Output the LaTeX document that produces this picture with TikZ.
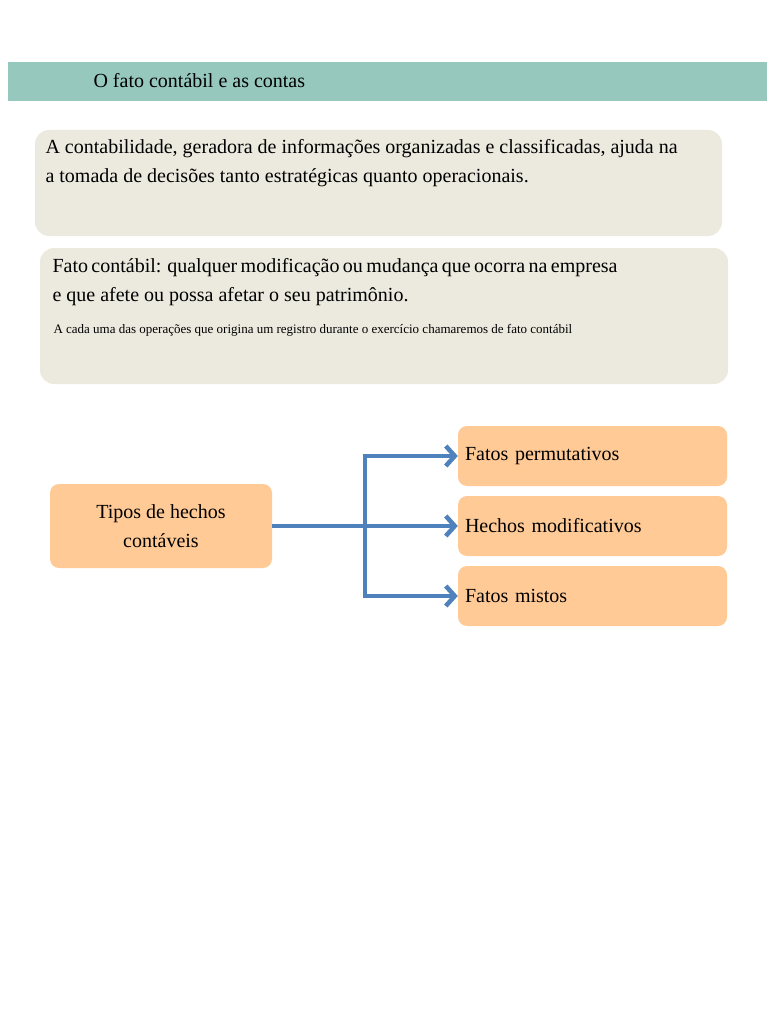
\documentclass[tikz,border=0pt]{standalone}
\usepackage{fontspec}
\setmainfont{Liberation Serif}
\usetikzlibrary{positioning,arrows.meta}
\definecolor{titleBar}{HTML}{96C8BE}
\definecolor{noteFill}{HTML}{ECEADF}
\definecolor{typeFill}{HTML}{FFCA96}
\definecolor{linkBlue}{HTML}{4F81BD}

\begin{document}
\begin{tikzpicture}[
  x=1pt, y=-1pt,
  noteBox/.style={
    fill=noteFill,
    rounded corners=14pt,
  },
  typeBox/.style={
    fill=typeFill,
    rounded corners=9pt,
    minimum height=60pt,
    inner sep=0pt,
  },
  link/.style={
    draw=linkBlue,
    line width=4.5pt,
    -{Straight Barb[length=9pt,width=20pt,line width=4.5pt]},
  },
]
\useasboundingbox (0,0) rectangle (768,1024);
\fill[titleBar] (8,62) rectangle (767,101);
\node[anchor=west,font=\fontsize{20}{24}\selectfont] (title) at (90,81) {O fato contábil e as contas};

\fill[noteBox] (35,130) rectangle (722,236);
\node[anchor=north west,align=left,font=\fontsize{20}{29}\selectfont] (gen) at (42,136)
  {A contabilidade, geradora de informações organizadas e classificadas, ajuda na\\
   a tomada de decisões tanto estratégicas quanto operacionais.};

\fill[noteBox] (40,248) rectangle (728,384);
\node[anchor=north west,text width=565pt,align=justify,font=\fontsize{20}{29}\selectfont] (fact) at (49,255)
  {Fato contábil: qualquer modificação ou mudança que ocorra na empresa e que afete ou possa afetar o seu patrimônio.};
\node[anchor=north west,font=\fontsize{13}{16}\selectfont] (note) at (50,321)
  {A cada uma das operações que origina um registro durante o exercício chamaremos de fato contábil};

\node[typeBox,minimum width=222pt,minimum height=84pt,align=center,font=\fontsize{20}{29}\selectfont] (types) at (161,526)
  {Tipos de hechos\\contáveis};
\node[typeBox,minimum width=269pt,text width=255pt,align=left,font=\fontsize{20}{24}\selectfont] (perm) at (592.5,456) {Fatos permutativos};
\node[typeBox,minimum width=269pt,text width=255pt,align=left,font=\fontsize{20}{24}\selectfont] (modi) at (592.5,526) {Hechos modificativos};
\node[typeBox,minimum width=269pt,text width=255pt,align=left,font=\fontsize{20}{24}\selectfont] (mixed) at (592.5,596) {Fatos mistos};

\coordinate (fork) at (365,526);
\draw[draw=linkBlue,line width=4.5pt] (types.east) -- (fork);
\draw[link] (fork) |- (perm.west);
\draw[link] (fork) -- (modi.west);
\draw[link] (fork) |- (mixed.west);
\end{tikzpicture}
\end{document}
